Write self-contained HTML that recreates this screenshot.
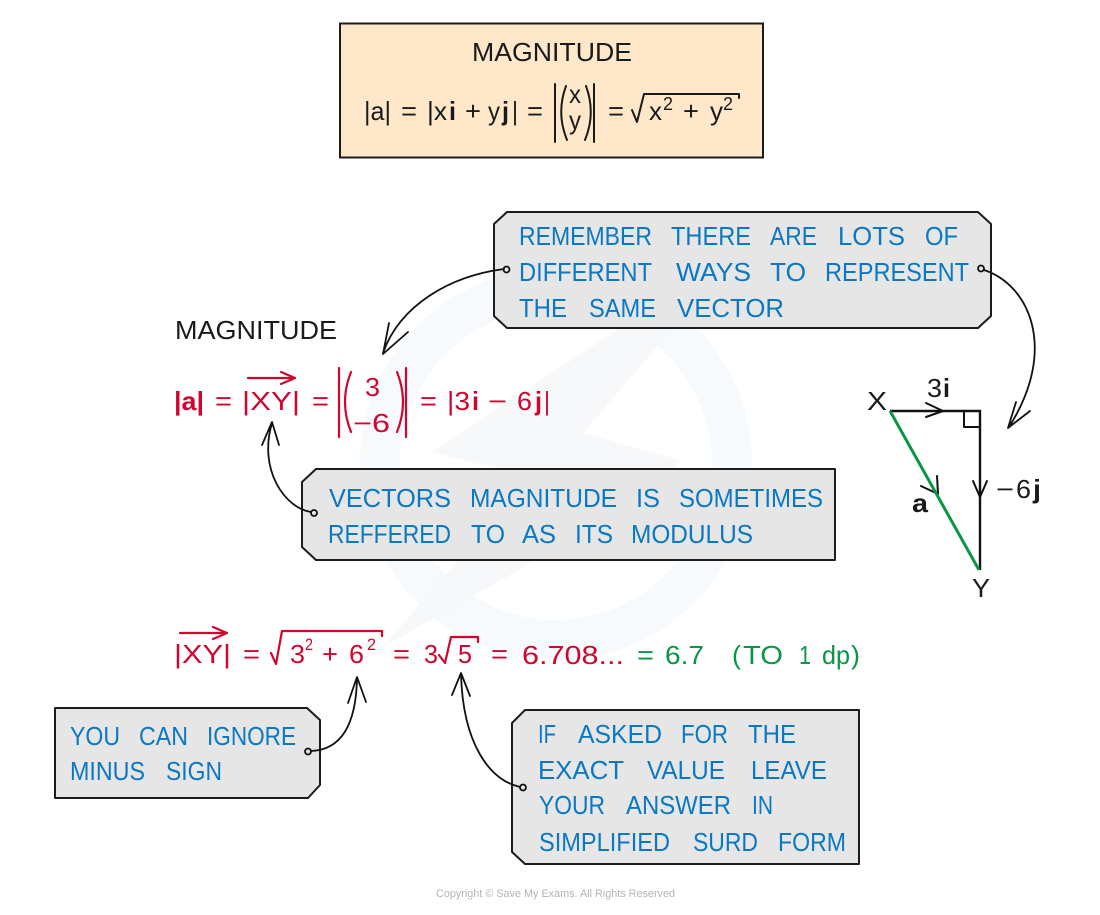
<!DOCTYPE html>
<html><head><meta charset="utf-8"><style>
html,body{margin:0;padding:0;background:#fff}
svg{display:block}
text{font-family:"Liberation Sans",sans-serif;font-size:26px;white-space:pre}
.b text{fill:#0a78c2}
.r text{fill:#d0062f}
.g text{fill:#0a9645}
.k text{fill:#1a1a1a}
.c{fill:none;stroke:#111;stroke-width:1.8;stroke-linecap:round;stroke-linejoin:round}
.box{fill:#e6e6e6;stroke:#1c1c1c;stroke-width:2;stroke-linejoin:round}
.dot{fill:none;stroke:#111;stroke-width:1.8}
.rl{fill:none;stroke:#d0062f;stroke-width:2.2;stroke-linecap:round;stroke-linejoin:round}
.kl{fill:none;stroke:#1a1a1a;stroke-width:2;stroke-linecap:round;stroke-linejoin:round}
</style></head><body>
<svg width="1100" height="915" viewBox="0 0 1100 915" xmlns="http://www.w3.org/2000/svg">
<rect width="1100" height="915" fill="#fff"/>
<!-- watermark -->
<circle cx="556" cy="464" r="176" fill="none" stroke="#f6fafd" stroke-width="40"/>
<polygon points="743,247 432,452 530,477 383,647 660,490 680,460 583,433" fill="#f7f8f9"/>

<!-- top box -->
<rect x="340" y="23.5" width="423" height="134" fill="#ffe7c9" stroke="#1c1c1c" stroke-width="2"/>
<g class="k">
<text x="472" y="61" textLength="160" lengthAdjust="spacingAndGlyphs">MAGNITUDE</text>
<text x="364" y="120" textLength="27" lengthAdjust="spacingAndGlyphs">|a|</text>
<text x="401" y="120" textLength="16" lengthAdjust="spacingAndGlyphs">=</text>
<text x="427" y="120" textLength="20" lengthAdjust="spacingAndGlyphs">|x</text>
<text x="449" y="120" style="font-weight:bold" textLength="7" lengthAdjust="spacingAndGlyphs">i</text>
<text x="465" y="120" textLength="16" lengthAdjust="spacingAndGlyphs">+</text>
<text x="488" y="120" textLength="12" lengthAdjust="spacingAndGlyphs">y</text>
<text x="502" y="120" style="font-weight:bold" textLength="7" lengthAdjust="spacingAndGlyphs">j</text>
<text x="512" y="120" textLength="6" lengthAdjust="spacingAndGlyphs">|</text>
<text x="527" y="120" textLength="16" lengthAdjust="spacingAndGlyphs">=</text>
<text x="569" y="103" textLength="12" lengthAdjust="spacingAndGlyphs">x</text>
<text x="569" y="129" textLength="12" lengthAdjust="spacingAndGlyphs">y</text>
<text x="608" y="120" textLength="16" lengthAdjust="spacingAndGlyphs">=</text>
<text x="649" y="120" textLength="13" lengthAdjust="spacingAndGlyphs">x</text>
<text x="663" y="110" style="font-size:18px" textLength="10" lengthAdjust="spacingAndGlyphs">2</text>
<text x="683" y="120" textLength="16" lengthAdjust="spacingAndGlyphs">+</text>
<text x="710" y="120" textLength="13" lengthAdjust="spacingAndGlyphs">y</text>
<text x="723" y="110" style="font-size:18px" textLength="10" lengthAdjust="spacingAndGlyphs">2</text>
</g>
<path class="kl" d="M555,84V142M594,84V142M566,86Q556,113 567,140M586,86Q596,113 585,140M632,110L637,122L644,94H739V98"/>

<!-- box 1 -->
<polygon class="box" points="507,212 978,212 991,224 991,316 978,328 507,328 494,316 494,224"/>
<g class="b">
<text x="519" y="245" textLength="133" lengthAdjust="spacingAndGlyphs">REMEMBER</text>
<text x="671" y="245" textLength="80" lengthAdjust="spacingAndGlyphs">THERE</text>
<text x="770" y="245" textLength="47" lengthAdjust="spacingAndGlyphs">ARE</text>
<text x="838" y="245" textLength="67" lengthAdjust="spacingAndGlyphs">LOTS</text>
<text x="925" y="245" textLength="33" lengthAdjust="spacingAndGlyphs">OF</text>
<text x="519" y="281" textLength="133" lengthAdjust="spacingAndGlyphs">DIFFERENT</text>
<text x="676" y="281" textLength="75" lengthAdjust="spacingAndGlyphs">WAYS</text>
<text x="770" y="281" textLength="36" lengthAdjust="spacingAndGlyphs">TO</text>
<text x="825" y="281" textLength="144" lengthAdjust="spacingAndGlyphs">REPRESENT</text>
<text x="519" y="317" textLength="48" lengthAdjust="spacingAndGlyphs">THE</text>
<text x="589" y="317" textLength="67" lengthAdjust="spacingAndGlyphs">SAME</text>
<text x="677" y="317" textLength="107" lengthAdjust="spacingAndGlyphs">VECTOR</text>
</g>

<!-- magnitude heading -->
<g class="k"><text x="175" y="339" textLength="162" lengthAdjust="spacingAndGlyphs">MAGNITUDE</text></g>

<!-- red formula 1 -->
<g class="r">
<text x="174" y="410" style="font-weight:bold" textLength="30" lengthAdjust="spacingAndGlyphs">|a|</text>
<text x="215" y="410" textLength="17" lengthAdjust="spacingAndGlyphs">=</text>
<text x="242" y="410" textLength="58" lengthAdjust="spacingAndGlyphs">|XY|</text>
<text x="312" y="410" textLength="17" lengthAdjust="spacingAndGlyphs">=</text>
<text x="365" y="396" textLength="15" lengthAdjust="spacingAndGlyphs">3</text>
<text x="353" y="432" textLength="37" lengthAdjust="spacingAndGlyphs">−6</text>
<text x="420" y="410" textLength="17" lengthAdjust="spacingAndGlyphs">=</text>
<text x="447" y="410" textLength="23" lengthAdjust="spacingAndGlyphs">|3</text>
<text x="472" y="410" style="font-weight:bold" textLength="7" lengthAdjust="spacingAndGlyphs">i</text>
<text x="488" y="410" textLength="19" lengthAdjust="spacingAndGlyphs">−</text>
<text x="517" y="410" textLength="15" lengthAdjust="spacingAndGlyphs">6</text>
<text x="535" y="410" style="font-weight:bold" textLength="7" lengthAdjust="spacingAndGlyphs">j</text>
<text x="544" y="410" textLength="6" lengthAdjust="spacingAndGlyphs">|</text>
</g>
<path class="rl" d="M248,378H295M281,372L295,378L281,384M339,368V437M406,368V437M351,372Q339,402 351,432M397,372Q409,402 397,432"/>

<!-- box 2 -->
<polygon class="box" points="316,469 835,469 835,560 316,560 302,547 302,482"/>
<g class="b">
<text x="329" y="507" textLength="122" lengthAdjust="spacingAndGlyphs">VECTORS</text>
<text x="470" y="507" textLength="147" lengthAdjust="spacingAndGlyphs">MAGNITUDE</text>
<text x="636" y="507" textLength="24" lengthAdjust="spacingAndGlyphs">IS</text>
<text x="679" y="507" textLength="144" lengthAdjust="spacingAndGlyphs">SOMETIMES</text>
<text x="328" y="543" textLength="123" lengthAdjust="spacingAndGlyphs">REFFERED</text>
<text x="471" y="543" textLength="34" lengthAdjust="spacingAndGlyphs">TO</text>
<text x="522" y="543" textLength="34" lengthAdjust="spacingAndGlyphs">AS</text>
<text x="575" y="543" textLength="38" lengthAdjust="spacingAndGlyphs">ITS</text>
<text x="631" y="543" textLength="122" lengthAdjust="spacingAndGlyphs">MODULUS</text>
</g>

<!-- triangle -->
<path d="M890,411H980V570" fill="none" stroke="#111" stroke-width="2.4"/>
<path d="M926,403L943,411L926,417M964,412V427H979M973,481L980,497L987,481M937,476L938,494L921,486" fill="none" stroke="#111" stroke-width="2" stroke-linecap="round" stroke-linejoin="round"/>
<line x1="890" y1="411" x2="979" y2="570" stroke="#0a9645" stroke-width="3"/>
<g class="k">
<text x="867" y="410" textLength="20" lengthAdjust="spacingAndGlyphs">X</text>
<text x="927" y="397" textLength="15" lengthAdjust="spacingAndGlyphs">3</text>
<text x="943" y="397" style="font-weight:bold" textLength="7" lengthAdjust="spacingAndGlyphs">i</text>
<text x="912" y="512" style="font-weight:bold" textLength="16" lengthAdjust="spacingAndGlyphs">a</text>
<text x="996" y="498" textLength="18" lengthAdjust="spacingAndGlyphs">−</text>
<text x="1016" y="498" textLength="15" lengthAdjust="spacingAndGlyphs">6</text>
<text x="1033" y="498" style="font-weight:bold" textLength="8" lengthAdjust="spacingAndGlyphs">j</text>
<text x="972" y="597" textLength="18" lengthAdjust="spacingAndGlyphs">Y</text>
</g>

<!-- red formula 2 -->
<g class="r">
<text x="174" y="663" textLength="57" lengthAdjust="spacingAndGlyphs">|XY|</text>
<text x="243" y="663" textLength="17" lengthAdjust="spacingAndGlyphs">=</text>
<text x="290" y="663" textLength="15" lengthAdjust="spacingAndGlyphs">3</text>
<text x="305" y="650" style="font-size:17px" textLength="8" lengthAdjust="spacingAndGlyphs">2</text>
<text x="322" y="663" textLength="16" lengthAdjust="spacingAndGlyphs">+</text>
<text x="349" y="663" textLength="15" lengthAdjust="spacingAndGlyphs">6</text>
<text x="367" y="650" style="font-size:17px" textLength="9" lengthAdjust="spacingAndGlyphs">2</text>
<text x="393" y="663" textLength="17" lengthAdjust="spacingAndGlyphs">=</text>
<text x="424" y="663" textLength="14" lengthAdjust="spacingAndGlyphs">3</text>
<text x="458" y="663" textLength="14" lengthAdjust="spacingAndGlyphs">5</text>
<text x="491" y="663" textLength="17" lengthAdjust="spacingAndGlyphs">=</text>
<text x="522" y="664" textLength="102" lengthAdjust="spacingAndGlyphs">6.708...</text>
</g>
<path class="rl" d="M180,633H227M213,627L227,633L213,639M271,653L276,664L282,631H382V636M439,655L445,663L451,637H478V642"/>
<g class="g">
<text x="637" y="664" textLength="17" lengthAdjust="spacingAndGlyphs">=</text>
<text x="665" y="664" textLength="39" lengthAdjust="spacingAndGlyphs">6.7</text>
<text x="732" y="664" textLength="9" lengthAdjust="spacingAndGlyphs">(</text>
<text x="743" y="664" textLength="40" lengthAdjust="spacingAndGlyphs">TO</text>
<text x="799" y="664" textLength="12" lengthAdjust="spacingAndGlyphs">1</text>
<text x="822" y="664" textLength="28" lengthAdjust="spacingAndGlyphs">dp</text>
<text x="851" y="664" textLength="9" lengthAdjust="spacingAndGlyphs">)</text>
</g>

<!-- box 3 -->
<polygon class="box" points="55,708 307,708 320,720 320,785 308,798 55,798"/>
<g class="b">
<text x="70" y="745" textLength="50" lengthAdjust="spacingAndGlyphs">YOU</text>
<text x="139" y="745" textLength="49" lengthAdjust="spacingAndGlyphs">CAN</text>
<text x="207" y="745" textLength="89" lengthAdjust="spacingAndGlyphs">IGNORE</text>
<text x="70" y="780" textLength="75" lengthAdjust="spacingAndGlyphs">MINUS</text>
<text x="166" y="780" textLength="56" lengthAdjust="spacingAndGlyphs">SIGN</text>
</g>

<!-- box 4 -->
<polygon class="box" points="525,710 859,710 859,864 525,864 512,852 512,723"/>
<g class="b">
<text x="538" y="743" textLength="18" lengthAdjust="spacingAndGlyphs">IF</text>
<text x="578" y="743" textLength="84" lengthAdjust="spacingAndGlyphs">ASKED</text>
<text x="681" y="743" textLength="47" lengthAdjust="spacingAndGlyphs">FOR</text>
<text x="748" y="743" textLength="48" lengthAdjust="spacingAndGlyphs">THE</text>
<text x="538" y="779" textLength="86" lengthAdjust="spacingAndGlyphs">EXACT</text>
<text x="647" y="779" textLength="78" lengthAdjust="spacingAndGlyphs">VALUE</text>
<text x="751" y="779" textLength="76" lengthAdjust="spacingAndGlyphs">LEAVE</text>
<text x="539" y="814" textLength="66" lengthAdjust="spacingAndGlyphs">YOUR</text>
<text x="626" y="814" textLength="105" lengthAdjust="spacingAndGlyphs">ANSWER</text>
<text x="752" y="814" textLength="21" lengthAdjust="spacingAndGlyphs">IN</text>
<text x="539" y="851" textLength="131" lengthAdjust="spacingAndGlyphs">SIMPLIFIED</text>
<text x="693" y="851" textLength="65" lengthAdjust="spacingAndGlyphs">SURD</text>
<text x="778" y="851" textLength="68" lengthAdjust="spacingAndGlyphs">FORM</text>
</g>

<!-- connectors (drawn over the boxes so they reach the dots) -->
<path class="c" d="M504,269C450,276 400,305 383,353M389,323L383,354L408,332"/>
<path class="c" d="M984,270C1030,285 1058,350 1009,427M1016,402L1008,428L1030,411"/>
<path class="c" d="M311,512C285,508 258,470 272,423M262,445L272,422L279,445"/>
<path class="c" d="M311,751C338,750 356,730 357,678M348,703L357,677L366,702"/>
<path class="c" d="M520,787C490,780 463,745 461,674M452,695L461,673L470,696"/>
<circle class="dot" cx="506.5" cy="269.5" r="3"/>
<circle class="dot" cx="981" cy="268.5" r="3"/>
<circle class="dot" cx="314" cy="513" r="3"/>
<circle class="dot" cx="308" cy="751.5" r="3"/>
<circle class="dot" cx="523" cy="787.5" r="3"/>

<text x="436" y="897" style="font-size:11px;fill:#b4b4b4" textLength="239" lengthAdjust="spacingAndGlyphs">Copyright © Save My Exams. All Rights Reserved</text>
</svg>
</body></html>
